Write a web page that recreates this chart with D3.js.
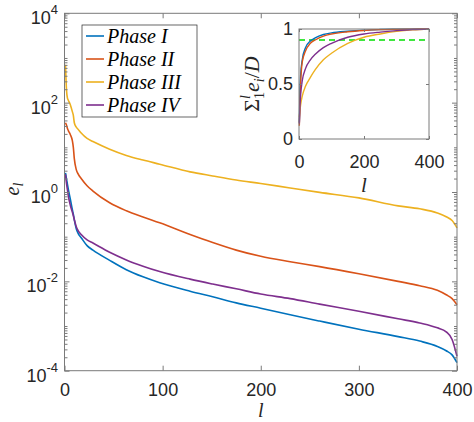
<!DOCTYPE html>
<html><head><meta charset="utf-8">
<script src="https://cdn.jsdelivr.net/npm/d3@7"></script>
<style>body{margin:0;background:#fff}svg{display:block}</style>
</head><body>
<svg id="c" width="474" height="422"></svg>
<script>
// ---- data ----
const ell = [1,2,3,4,6,8,9,10,12,14,17,23,29,46,63,80,97,128,151,175,200,230,260,300,340,362,380,389,395,400];
const phaseI   = [2.69,2.0,1.48,1.12,0.68,0.40,0.32,0.24,0.15,0.117,0.095,0.063,0.050,0.0295,0.0182,0.0126,0.0093,0.0060,0.0045,0.0033,0.0025,0.00178,0.00129,0.00085,0.00058,0.00046,0.00035,0.000280,0.000226,0.000151];
const phaseII  = [35.5,31.6,26.3,23.4,19.1,14.1,10.0,5.6,3.16,2.51,2.0,1.38,1.05,0.575,0.38,0.275,0.204,0.112,0.074,0.050,0.0363,0.0275,0.0214,0.0148,0.0100,0.0080,0.0063,0.0050,0.0041,0.003];
const phaseIII = [708,200,126,112,89,63,52,35.5,28.2,25.1,20.9,15.8,13.5,9.1,6.6,5.2,4.2,2.82,2.29,1.86,1.55,1.23,0.98,0.74,0.49,0.42,0.34,0.28,0.23,0.158];
const phaseIV  = [2.5,1.58,1.12,0.79,0.50,0.355,0.295,0.24,0.166,0.135,0.112,0.085,0.072,0.0447,0.0302,0.0219,0.0166,0.0112,0.0087,0.0068,0.0052,0.0041,0.00309,0.00214,0.00145,0.00117,0.00091,0.00074,0.0005,0.00021];
const seriesNames = ["Phase I","Phase II","Phase III","Phase IV"];
const colors = ["#0072BD","#D95319","#EDB120","#7E2F8E"];
const xTicks = [0,100,200,300,400];
const yTickExps = [4,2,0,-2,-4];

// inset: cumulative fraction
const insetL   = [1,3,5,10,20,35,50,75,100,150,200,250,300,350,400];
const insetI   = [0.15,0.45,0.58,0.72,0.83,0.89,0.92,0.95,0.965,0.98,0.99,0.995,0.998,0.999,1.0];
const insetII  = [0.12,0.33,0.50,0.70,0.80,0.87,0.90,0.935,0.955,0.975,0.987,0.994,0.997,0.999,1.0];
const insetIII = [0.20,0.26,0.31,0.39,0.48,0.56,0.63,0.72,0.78,0.87,0.925,0.955,0.978,0.992,1.0];
const insetIV  = [0.14,0.30,0.40,0.53,0.64,0.72,0.77,0.83,0.87,0.925,0.955,0.972,0.985,0.995,1.0];
const insetXTicks = [0,200,400];
const insetYTicks = [0,0.5,1];
const threshold = 0.9;

// ---- drawing ----
const svg = d3.select("#c");
const axisColor = "#7a7a7a", textColor = "#262626";
const sans = "'Liberation Sans',Arial,Helvetica,sans-serif";
const serif = "'Liberation Serif','Times New Roman',serif";
const M = {l:64.5, r:457, t:13.3, b:370.7};
const x = d3.scaleLinear().domain([0,400]).range([M.l,M.r]);
const y = d3.scaleLog().domain([1e-4,1e4]).range([M.b,M.t]);

const line = d3.line().x((d,i)=>x(ell[i])).y(d=>y(d)).curve(d3.curveMonotoneX);
[phaseI,phaseII,phaseIII,phaseIV].forEach((s,k)=>{
  svg.append("path").datum(s).attr("d",line).attr("fill","none")
    .attr("stroke",colors[k]).attr("stroke-width",1.6).attr("stroke-linejoin","round");
});

function styleAxis(g){
  g.select(".domain").remove();
  g.selectAll("line").attr("stroke",axisColor);
  g.selectAll("text").attr("font-family",sans).attr("font-size",18).attr("fill",textColor);
}
// x axes
svg.append("g").attr("transform",`translate(0,${M.b})`)
  .call(d3.axisBottom(x).tickValues(xTicks).tickSizeInner(-5).tickSizeOuter(0).tickPadding(12.5)).call(styleAxis);
svg.append("g").attr("transform",`translate(0,${M.t})`)
  .call(d3.axisTop(x).tickValues(xTicks).tickSizeInner(-5).tickSizeOuter(0).tickFormat("")).call(styleAxis);
// y axes (major + minor)
const yMajor = yTickExps.map(e=>Math.pow(10,e));
const yMinor = y.ticks().filter(v=>!yMajor.some(m=>Math.abs(Math.log10(m)-Math.log10(v))<1e-6));
[[d3.axisLeft,M.l],[d3.axisRight,M.r]].forEach(([ax,px])=>{
  svg.append("g").attr("transform",`translate(${px},0)`)
    .call(ax(y).tickValues(yMajor).tickSizeInner(-5).tickSizeOuter(0).tickFormat("")).call(styleAxis);
  svg.append("g").attr("transform",`translate(${px},0)`)
    .call(ax(y).tickValues(yMinor).tickSizeInner(-3).tickSizeOuter(0).tickFormat("")).call(styleAxis);
});
// y tick labels 10^k
yTickExps.forEach(e=>{
  const t = svg.append("text").attr("x",58).attr("y",y(Math.pow(10,e))+11)
    .attr("text-anchor","end").attr("font-family",sans).attr("fill",textColor);
  t.append("tspan").attr("font-size",18).text("10");
  t.append("tspan").attr("font-size",13).attr("dy",-10).text(String(e));
});
// frame
svg.append("rect").attr("x",M.l).attr("y",M.t).attr("width",M.r-M.l).attr("height",M.b-M.t)
  .attr("fill","none").attr("stroke",axisColor);

// axis labels
svg.append("text").attr("x",(M.l+M.r)/2).attr("y",417).attr("text-anchor","middle")
  .attr("font-family",serif).attr("font-style","italic").attr("font-size",20).attr("fill",textColor).text("l");
const ey = svg.append("text").attr("transform",`translate(19,${(M.t+M.b)/2-3}) rotate(-90)`)
  .attr("text-anchor","middle").attr("font-family",serif).attr("font-style","italic").attr("font-size",20).attr("fill",textColor);
ey.append("tspan").text("e");
ey.append("tspan").attr("font-size",14).attr("dy",4).text("l");

// legend
const lg = svg.append("g");
lg.append("rect").attr("x",82).attr("y",25).attr("width",115).attr("height",92)
  .attr("fill","#fff").attr("stroke",textColor).attr("stroke-width",0.7);
seriesNames.forEach((n,i)=>{
  const yy = 36 + i*23;
  lg.append("line").attr("x1",86).attr("x2",104).attr("y1",yy).attr("y2",yy)
    .attr("stroke",colors[i]).attr("stroke-width",1.6);
  lg.append("text").attr("x",107).attr("y",yy).attr("dy","0.35em")
    .attr("font-family",serif).attr("font-style","italic").attr("font-size",20).attr("fill","#000").text(n);
});

// inset
const I = {l:299, r:429, t:29, b:139};
const xi = d3.scaleLinear().domain([0,400]).range([I.l,I.r]);
const yi = d3.scaleLinear().domain([0,1]).range([I.b,I.t]);
svg.append("rect").attr("x",I.l).attr("y",I.t).attr("width",I.r-I.l).attr("height",I.b-I.t).attr("fill","#fff");
svg.append("line").attr("x1",xi(0)).attr("x2",xi(400)).attr("y1",yi(threshold)).attr("y2",yi(threshold))
  .attr("stroke","#00e000").attr("stroke-width",1.5).attr("stroke-dasharray","6,4");
const iline = d3.line().x((d,i)=>xi(insetL[i])).y(d=>yi(d)).curve(d3.curveMonotoneX);
[insetI,insetII,insetIII,insetIV].forEach((s,k)=>{
  svg.append("path").datum(s).attr("d",iline).attr("fill","none")
    .attr("stroke",colors[k]).attr("stroke-width",1.4);
});
svg.append("g").attr("transform",`translate(0,${I.b})`)
  .call(d3.axisBottom(xi).tickValues(insetXTicks).tickSizeInner(-3).tickSizeOuter(0).tickPadding(16)).call(styleAxis);
svg.append("g").attr("transform",`translate(0,${I.t})`)
  .call(d3.axisTop(xi).tickValues(insetXTicks).tickSizeInner(-3).tickSizeOuter(0).tickFormat("")).call(styleAxis);
svg.append("g").attr("transform",`translate(${I.l},0)`)
  .call(d3.axisLeft(yi).tickValues(insetYTicks).tickSizeInner(-3).tickSizeOuter(0).tickPadding(6).tickFormat(d=>String(d))).call(styleAxis);
svg.append("g").attr("transform",`translate(${I.r},0)`)
  .call(d3.axisRight(yi).tickValues(insetYTicks).tickSizeInner(-3).tickSizeOuter(0).tickFormat("")).call(styleAxis);
svg.append("rect").attr("x",I.l).attr("y",I.t).attr("width",I.r-I.l).attr("height",I.b-I.t)
  .attr("fill","none").attr("stroke",axisColor);
svg.append("text").attr("x",(I.l+I.r)/2).attr("y",192).attr("text-anchor","middle")
  .attr("font-family",serif).attr("font-style","italic").attr("font-size",21).attr("fill",textColor).text("l");
const sl = svg.append("text").attr("transform",`translate(259,${(I.t+I.b)/2}) rotate(-90)`)
  .attr("text-anchor","middle").attr("font-family",serif).attr("font-size",22).attr("fill",textColor);
sl.append("tspan").text("Σ");
sl.append("tspan").attr("font-size",14).attr("dy",5).text("1");
sl.append("tspan").attr("font-size",14).attr("font-style","italic").attr("dx",-7).attr("dy",-14).text("l");
sl.append("tspan").attr("font-style","italic").attr("dx",3).attr("dy",9).text("e");
sl.append("tspan").attr("font-size",14).attr("font-style","italic").attr("dy",5).text("i");
sl.append("tspan").attr("dy",-5).text("/");
sl.append("tspan").attr("font-style","italic").text("D");
</script>
</body></html>
